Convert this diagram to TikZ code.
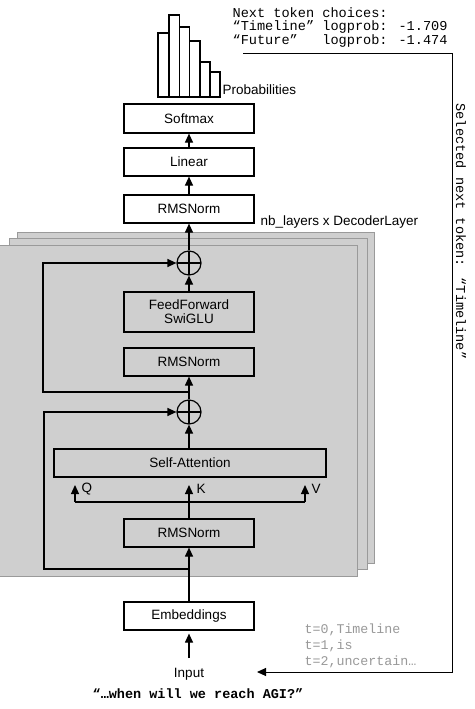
\documentclass[tikz,border=0pt]{standalone}
\usepackage{fontspec}
\setmainfont{Liberation Sans}
\newfontfamily\monof{Liberation Mono}
\usetikzlibrary{arrows.meta}
\definecolor{panelfill}{HTML}{CFCFCF}
\definecolor{paneledge}{HTML}{9A9A9A}
\definecolor{graytxt}{HTML}{999999}
\tikzset{
  sansf/.style={font=\fontsize{13.5}{16}\selectfont},
  monot/.style={font=\monof\fontsize{13.6}{15}\selectfont, inner sep=0pt, anchor=west},
  blockbox/.style={draw, sansf, minimum width=130pt, minimum height=28pt, inner sep=0pt, align=center},
  whitebox/.style={blockbox, fill=white},
  plusnode/.style={draw, circle, minimum size=24pt, inner sep=0pt,
    path picture={\draw (path picture bounding box.north) -- (path picture bounding box.south)
                        (path picture bounding box.west) -- (path picture bounding box.east);}},
  panel/.style={fill=panelfill, draw=paneledge, line width=1pt},
  bar/.style={draw, fill=white, line width=1.2pt},
  lbl/.style={sansf, inner sep=0pt, anchor=west}
}
\begin{document}
\begin{tikzpicture}[x=1pt, y=-1pt, line width=1.2pt, >={Triangle[length=9pt,width=8pt]}]
\useasboundingbox (0,0) rectangle (474,709);
\fill[white] (0,0) rectangle (474,709);

% stacked decoder layers
\draw[panel] (17,232) rectangle (374,563);
\draw[panel] (9,238) rectangle (367,569);
\draw[panel] (-1,245) rectangle (357,576);

% histogram
\draw[bar] (158,33) rectangle (169,97);
\draw[bar] (169,15) rectangle (179.5,97);
\draw[bar] (179.5,27) rectangle (189.5,97);
\draw[bar] (189.5,41) rectangle (200,97);
\draw[bar] (200,62) rectangle (210,97);
\draw[bar] (210,72) rectangle (220,97);
\node[lbl] (prob) at (222,90) {Probabilities};

% top blocks
\node[whitebox, minimum height=29pt] (softmax) at (189,118.5) {Softmax};
\node[whitebox] (linear) at (189,162) {Linear};
\node[whitebox] (rmstop) at (189,209) {RMSNorm};
\node[lbl] (nbl) at (260,222) {nb\_layers x DecoderLayer};

% decoder layer
\node[plusnode] (plustop) at (189,263) {};
\node[blockbox, minimum height=40pt] (ff) at (189,312) {FeedForward\\[-2pt]SwiGLU};
\node[blockbox] (rmsmid) at (189,362) {RMSNorm};
\node[plusnode] (plusbot) at (189,412) {};
\node[blockbox, minimum width=272pt] (sa) at (190,463) {Self-Attention};
\node[blockbox] (rmsbot) at (189,533) {RMSNorm};
\node[whitebox] (emb) at (189,616) {Embeddings};
\node[sansf, inner sep=0pt] (input) at (189,674) {Input};
\node[font=\monof\bfseries\fontsize{13.5}{15}\selectfont, inner sep=0pt] (query) at (198,694) {“…when will we reach AGI?”};

% Q K V
\coordinate (qbase) at (75,502);
\coordinate (vbase) at (305,502);
\coordinate (qtip) at (75,485);
\coordinate (ktip) at (189,485);
\coordinate (vtip) at (305,485);
\node[lbl] (qlbl) at (81,489) {Q};
\node[lbl] (klbl) at (196,489) {K};
\node[lbl] (vlbl) at (311,489) {V};
\draw (qbase) -- (vbase);
\draw[->] (qbase) -- (qtip);
\draw[->] (vbase) -- (vtip);
\draw[->] (rmsbot.north) -- (ktip);

% main flow
\draw[->] (emb.north) -- (rmsbot.south);
\draw[->] (plusbot.south |- sa.north) -- (plusbot.south);
\draw[->] (plusbot.north) -- (rmsmid.south);
\draw[->] (ff.north) -- (plustop.south);
\draw[->] (plustop.north) -- (rmstop.south);
\draw[->] (rmstop.north) -- (linear.south);
\draw[->] (linear.north) -- (softmax.south);
\coordinate (instart) at (189,658);
\draw[->, shorten >=3pt] (instart) -- (emb.south);

% residual connections
\coordinate (jbot) at (189,569);
\coordinate (lb1) at (44,569);
\coordinate (lb2) at (44,412);
\draw[->] (jbot) -- (lb1) -- (lb2) -- (plusbot.west);
\coordinate (jtop) at (189,392);
\coordinate (lt1) at (43,392);
\coordinate (lt2) at (43,263);
\draw[->] (jtop) -- (lt1) -- (lt2) -- (plustop.west);

% next token text
\node[monot] (nt1) at (232,13) {Next token choices:};
\node[monot] (nt2) at (232,27) {“Timeline” logprob: -1.709};
\node[monot] (nt3) at (232,41) {“Future”\hphantom{xx} logprob: -1.474};

% feedback loop
\coordinate (fb1) at (243,54);
\coordinate (fb2) at (452,54);
\coordinate (fb3) at (452,672);
\coordinate (fbend) at (257,672);
\draw[->, line width=1pt] (fb1) -- (fb2) -- (fb3) -- (fbend);
\node[monot, rotate=-90] (sel) at (461,103) {Selected next token: “Timeline”};

% history
\node[monot, text=graytxt, font=\monof\fontsize{13.3}{15}\selectfont] (h0) at (304,630) {t=0,Timeline};
\node[monot, text=graytxt, font=\monof\fontsize{13.3}{15}\selectfont] (h1) at (304,646) {t=1,is};
\node[monot, text=graytxt, font=\monof\fontsize{13.3}{15}\selectfont] (h2) at (304,662) {t=2,uncertain…};
\end{tikzpicture}
\end{document}
